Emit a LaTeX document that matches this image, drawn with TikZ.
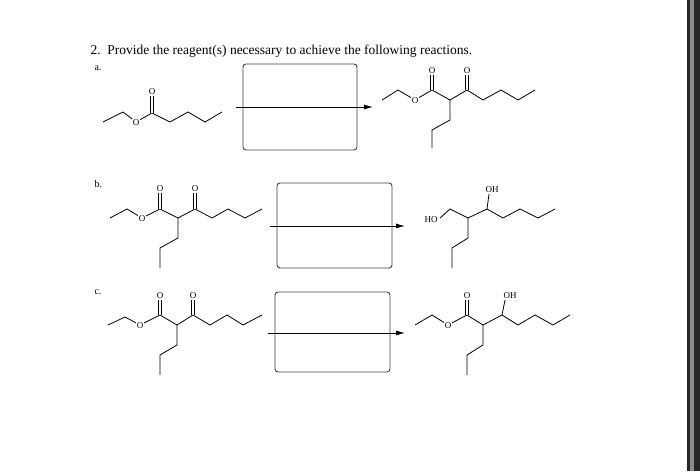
\documentclass[tikz,border=0pt]{standalone}
\usepackage{fontspec}
\setmainfont{Liberation Serif}
\usetikzlibrary{arrows.meta}

\begin{document}
\begin{tikzpicture}[
      x=1pt, y=-1pt,
      bond/.style={line width=0.8pt},
      dbl/.style={line width=0.8pt, double, double distance=2.2pt},
      atom/.style={fill=white, inner sep=0.6pt, font=\fontsize{9}{9}\selectfont},
      reagentbox/.style={draw=black!75, line width=0.9pt, rounded corners=3pt},
      rxnarrow/.style={line width=0.8pt, -{Latex[length=9pt,width=5pt]}},
      every node/.style={font=\fontsize{13.5}{15}\selectfont}
]
\useasboundingbox (0,0) rectangle (700,471);
\fill[black!85] (687,0) rectangle (700,471);
\fill[black!45] (690,0) rectangle (694,471);

\node[anchor=west] (title) at (87,51) {2.\ \ Provide the reagent(s) necessary to achieve the following reactions.};
\node[anchor=west, font=\fontsize{10}{10}\selectfont] (lbla) at (91,68) {a.};
\node[anchor=west, font=\fontsize{10}{10}\selectfont] (lblb) at (91,184) {b.};
\node[anchor=west, font=\fontsize{10}{10}\selectfont] (lblc) at (91,292) {c.};

% reagent boxes and arrows
\node[reagentbox, minimum width=114pt, minimum height=86pt] (boxa) at (300,107) {};
\node[reagentbox, minimum width=115pt, minimum height=85pt] (boxb) at (334.5,225.5) {};
\node[reagentbox, minimum width=115pt, minimum height=80pt] (boxc) at (332.5,332) {};
\coordinate (ina) at (236,107);  \coordinate (outa) at (373,107);
\coordinate (inb) at (270,226);  \coordinate (outb) at (405,226);
\coordinate (inc) at (268,333);  \coordinate (outc) at (405,333);
\draw[rxnarrow] (ina) -- (outa);
\draw[rxnarrow] (inb) -- (outb);
\draw[rxnarrow] (inc) -- (outc);

% a: ethyl pentanoate
\draw[bond] (103,122) -- (123,112) -- (136,122) -- (152,113) -- (170,122) -- (188,112) -- (205,122) -- (222,112);
\draw[dbl] (152,113) -- (152,95);
\node[atom] at (136,123) {O};
\node[atom] at (152,92) {O};

% a: product
\draw[bond] (382,100) -- (398,90) -- (415,100) -- (432,90) -- (450,100) -- (467,90) -- (483,100) -- (501,90) -- (518,100) -- (535,90);
\draw[bond] (450,100) -- (450,120) -- (432,130) -- (432,148);
\draw[dbl] (432,90) -- (432,75);
\draw[dbl] (467,90) -- (467,75);
\node[atom] at (415,101) {O};
\node[atom] at (432,71) {O};
\node[atom] at (467,71) {O};

% b: starting keto ester
\draw[bond] (110,218) -- (127,209) -- (142,218) -- (160,209) -- (178,218) -- (195,209) -- (212,218) -- (228,209) -- (245,218) -- (262,209);
\draw[bond] (178,218) -- (178,238) -- (160,248) -- (160,268);
\draw[dbl] (160,209) -- (160,193);
\draw[dbl] (195,209) -- (195,193);
\node[atom] at (142,219) {O};
\node[atom] at (160,189) {O};
\node[atom] at (195,189) {O};

% b: diol
\draw[bond] (440,218) -- (450,209) -- (468,218) -- (487,209) -- (503,218) -- (520,209) -- (538,218) -- (555,209);
\draw[bond] (468,218) -- (468,238) -- (452,248) -- (452,268);
\draw[bond] (487,209) -- (489,194);
\node[atom] at (431,220) {HO};
\node[atom] at (492,190) {OH};

% c: starting keto ester
\draw[bond] (108,325) -- (125,317) -- (140,325) -- (160,315) -- (177,325) -- (193,315) -- (210,325) -- (227,315) -- (243,325) -- (262,315);
\draw[bond] (177,325) -- (177,345) -- (160,355) -- (160,375);
\draw[dbl] (160,315) -- (160,300);
\draw[dbl] (193,315) -- (193,300);
\node[atom] at (140,326) {O};
\node[atom] at (160,296) {O};
\node[atom] at (193,296) {O};

% c: hydroxy ester
\draw[bond] (415,325) -- (432,315) -- (448,325) -- (467,315) -- (483,325) -- (502,315) -- (518,325) -- (535,315) -- (553,325) -- (570,315);
\draw[bond] (483,325) -- (483,345) -- (467,355) -- (467,375);
\draw[dbl] (467,315) -- (467,300);
\draw[bond] (502,315) -- (505,300);
\node[atom] at (448,326) {O};
\node[atom] at (467,296) {O};
\node[atom] at (510,296) {OH};

\end{tikzpicture}
\end{document}
